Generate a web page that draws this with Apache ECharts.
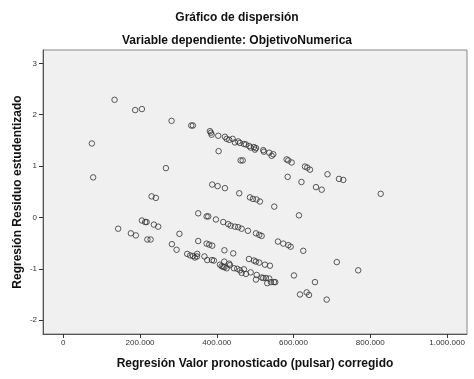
<!DOCTYPE html>
<html>
<head>
<meta charset="utf-8">
<script src="https://cdn.jsdelivr.net/npm/echarts@6/dist/echarts.min.js"></script>
<style>
html,body{margin:0;padding:0;background:#fff;}
#chart{width:474px;height:379px;}
</style>
</head>
<body>
<div id="chart"></div>
<script>
const titleText = "Gráfico de dispersión";
const subtitleText = "Variable dependiente: ObjetivoNumerica";
const xAxisName = "Regresión Valor pronosticado (pulsar) corregido";
const yAxisName = "Regresión Residuo estudentizado";
const xTicks = [0, 200000, 400000, 600000, 800000, 1000000];
const yTicks = [-2, -1, 0, 1, 2, 3];

const predicted = [
 133500,187200,204700,282100,333300,337700,382000,384600,386400,403700,
 421100,425600,432300,441200,447200,455800,460200,470700,475900,484500,
 488100,496700,499400,502000,521000,522800,536600,542900,547100,582000,
 586200,595000,629700,635700,642800,404700,462100,467300,
 74300,77700,267300,388000,402100,421100,458400,486300,494100,503300,
 512400,549700,584600,620600,658400,673300,688400,718400,729600,827100,
 230000,241200,351500,373400,377600,397700,416700,429700,436000,447200,
 455800,464700,481100,502000,510600,516800,559300,573200,586200,592400,
 614100,625300,712700,768500,204700,213300,217000,236000,247200,142900,
 176000,189000,219000,227400,302500,351500,373400,380200,388000,282900,
 295200,419800,442800,
 322800,330600,337700,342900,348100,348900,367700,375000,387200,392400,
 408100,412500,416700,419800,425600,434200,419300,432300,444600,453200,
 460200,470700,464700,475900,488100,503800,502000,516800,521000,528000,
 536600,531400,541100,548900,552300,483700,496700,502000,510600,525400,
 538500,601000,655800,616700,634200,640200,686300
];
const residual = [
 2.29,2.09,2.11,1.88,1.79,1.79,1.68,1.65,1.61,1.59,
 1.57,1.53,1.51,1.53,1.46,1.48,1.45,1.43,1.42,1.39,
 1.36,1.37,1.32,1.35,1.31,1.28,1.26,1.20,1.23,1.13,
 1.11,1.07,0.99,0.97,0.93,1.29,1.11,1.11,
 1.44,0.78,0.96,0.64,0.61,0.57,0.47,0.39,0.36,0.35,
 0.31,0.21,0.79,0.69,0.59,0.54,0.84,0.75,0.73,0.46,
 0.41,0.38,0.08,0.02,0.02,-0.04,-0.09,-0.13,-0.16,-0.18,
 -0.19,-0.22,-0.26,-0.31,-0.34,-0.36,-0.47,-0.51,-0.54,-0.57,
 0.04,-0.65,-0.87,-1.03,-0.06,-0.09,-0.09,-0.14,-0.18,-0.22,
 -0.31,-0.35,-0.43,-0.43,-0.32,-0.46,-0.51,-0.53,-0.55,-0.52,
 -0.63,-0.64,-0.70,
 -0.71,-0.74,-0.75,-0.78,-0.76,-0.71,-0.76,-0.83,-0.83,-0.84,
 -0.92,-0.95,-0.96,-0.97,-0.99,-0.93,-0.86,-0.90,-0.99,-1.00,
 -1.03,-1.01,-1.08,-1.10,-1.07,-1.12,-1.21,-1.17,-1.18,-1.18,
 -1.19,-1.28,-1.26,-1.26,-1.26,-0.81,-0.84,-0.86,-0.88,-0.92,
 -0.94,-1.13,-1.26,-1.50,-1.46,-1.51,-1.60
];

const points = predicted.map((x, i) => [x, residual[i]]);

function fmtThousands(v) {
  return String(Math.round(v)).replace(/\B(?=(\d{3})+(?!\d))/g, '.');
}

const chart = echarts.init(document.getElementById('chart'), null, {renderer: 'canvas'});
const FONT = '"Liberation Sans", Arial, sans-serif';
chart.setOption({
  animation: false,
  backgroundColor: '#ffffff',
  title: [
    {text: titleText, left: 'center', top: 7,
     textStyle: {fontFamily: FONT, fontSize: 12, fontWeight: 'bold', color: '#111'}},
    {text: subtitleText, left: 'center', top: 30,
     textStyle: {fontFamily: FONT, fontSize: 12, fontWeight: 'bold', color: '#111'}}
  ],
  grid: {left: 43, right: 7, top: 50, bottom: 45, show: true,
         backgroundColor: '#f0f0f0', borderColor: '#888', borderWidth: 1},
  xAxis: {
    type: 'value', min: -53000, max: 1052000,
    name: xAxisName, nameLocation: 'middle', nameGap: 24, nameMoveOverlap: false,
    nameTextStyle: {fontFamily: FONT, fontSize: 12, fontWeight: 'bold', color: '#111'},
    axisLine: {show: true, onZero: false, lineStyle: {color: '#555', width: 1}},
    axisTick: {show: true, length: 4, customValues: xTicks, lineStyle: {color: '#333'}},
    axisLabel: {customValues: xTicks, formatter: fmtThousands, fontFamily: FONT, fontSize: 8, color: '#333', margin: 5},
    splitLine: {show: false}
  },
  yAxis: {
    type: 'value', min: -2.27, max: 3.26,
    name: yAxisName, nameLocation: 'middle', nameGap: 19, nameRotate: 90, nameMoveOverlap: false,
    nameTextStyle: {fontFamily: FONT, fontSize: 12, fontWeight: 'bold', color: '#111'},
    axisLine: {show: true, onZero: false, lineStyle: {color: '#555', width: 1}},
    axisTick: {show: true, length: 4, customValues: yTicks, lineStyle: {color: '#333'}},
    axisLabel: {customValues: yTicks, fontFamily: FONT, fontSize: 8, color: '#333', margin: 6},
    splitLine: {show: false}
  },
  series: [{
    type: 'scatter',
    data: points,
    symbol: 'circle',
    symbolSize: 5.5,
    itemStyle: {color: 'rgba(0,0,0,0)', borderColor: '#333', borderWidth: 1}
  }]
});
</script>
</body>
</html>
